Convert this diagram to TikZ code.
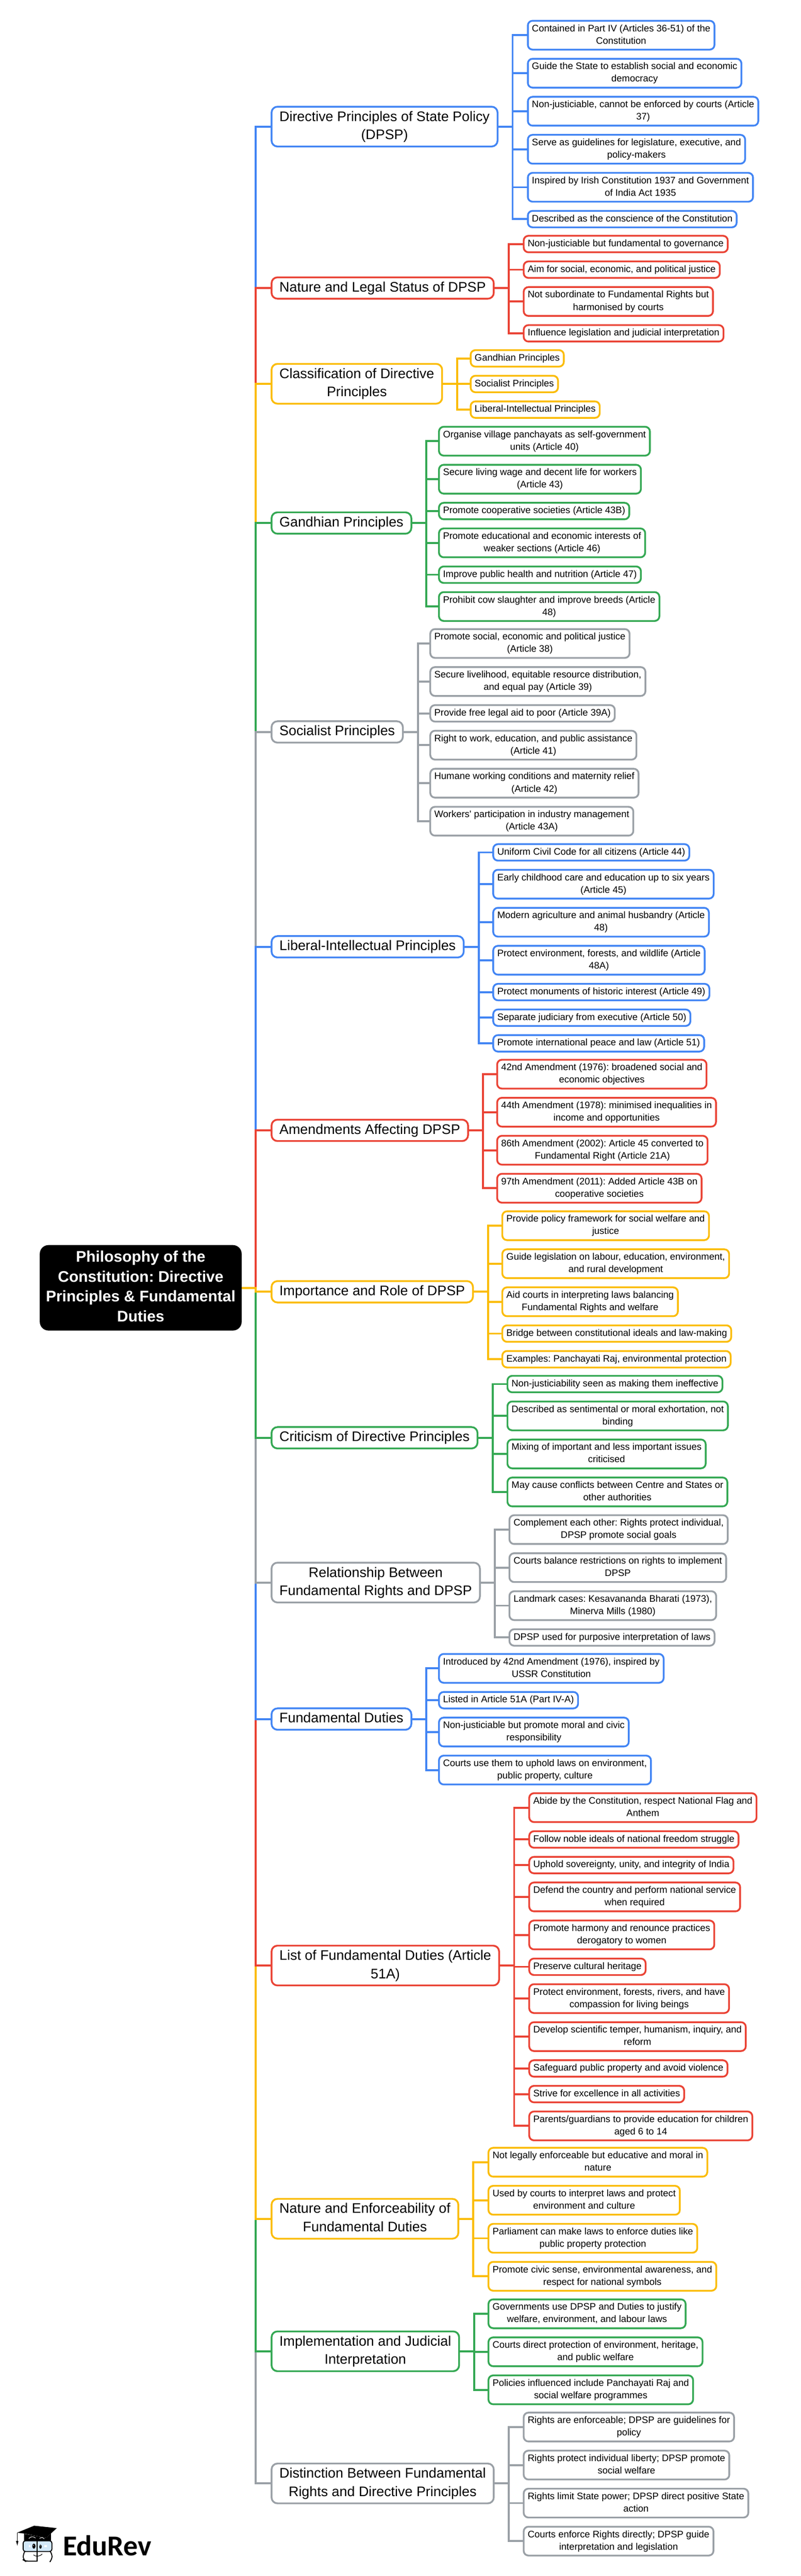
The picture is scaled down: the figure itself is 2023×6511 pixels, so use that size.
\documentclass[tikz,border=0pt]{standalone}
\usepackage{fontspec}
\setmainfont{Liberation Sans}[Ligatures=TeXOff]
\newfontfamily\brandfont{Carlito}
\usetikzlibrary{positioning}
\frenchspacing

\definecolor{gblue}{HTML}{4285F4}
\definecolor{gred}{HTML}{EA4335}
\definecolor{gyellow}{HTML}{FBBC04}
\definecolor{ggreen}{HTML}{34A853}
\definecolor{ggray}{HTML}{9AA0A6}
\definecolor{lensblue}{HTML}{D2E8F8}

\begin{document}
\begin{tikzpicture}[
  x=1pt, y=-1pt,
  every node/.style={align=center, text=black, outer sep=0pt},
  rootbox/.style={fill=black, text=white, rounded corners=22pt, minimum width=510pt, minimum height=216pt,
    inner sep=0pt, font=\fontsize{39}{50.5}\selectfont\bfseries},
  mainbox/.style={draw=#1, fill=white, line width=4.5pt, rounded corners=15pt, anchor=west,
    inner xsep=20pt, inner ysep=3.7pt, font=\fontsize{35}{46.6}\selectfont},
  subbox/.style={draw=#1, fill=white, line width=4.5pt, rounded corners=12pt, anchor=north west,
    inner xsep=10.3pt, inner ysep=5.15pt, font=\fontsize{24}{31.3}\selectfont},
  link/.style={draw=#1, line width=5pt}]

\useasboundingbox (0,0) rectangle (2023,6511);

%Root
\node[rootbox] at (355.5,3255) (root){\strut Philosophy of the\\Constitution: Directive\\Principles \& Fundamental\\Duties\strut};

%Main branches
\node[mainbox=gblue] at (686,320) (dpsp){\strut Directive Principles of State Policy\\(DPSP)\strut};
\node[mainbox=gred] at (686,728) (nature){Nature and Legal Status of DPSP\strut};
\node[mainbox=gyellow] at (686,970) (classes){\strut Classification of Directive\\Principles\strut};
\node[mainbox=ggreen] at (686,1322) (gandhi){Gandhian Principles\strut};
\node[mainbox=ggray] at (686,1850) (social){Socialist Principles\strut};
\node[mainbox=gblue] at (686,2393) (liberal){Liberal-Intellectual Principles\strut};
\node[mainbox=gred] at (686,2857) (amend){Amendments Affecting DPSP\strut};
\node[mainbox=gyellow] at (686,3265) (role){Importance and Role of DPSP\strut};
\node[mainbox=ggreen] at (686,3634) (critic){Criticism of Directive Principles\strut};
\node[mainbox=ggray] at (686,4000) (rights){\strut Relationship Between\\Fundamental Rights and DPSP\strut};
\node[mainbox=gblue] at (686,4345) (duties){Fundamental Duties\strut};
\node[mainbox=gred] at (686,4968) (dlist){\strut List of Fundamental Duties (Article\\51A)\strut};
\node[mainbox=gyellow] at (686,5608) (force){\strut Nature and Enforceability of\\Fundamental Duties\strut};
\node[mainbox=ggreen] at (686,5943) (judic){\strut Implementation and Judicial\\Interpretation\strut};
\node[mainbox=ggray] at (686,6277) (differ){\strut Distinction Between Fundamental\\Rights and Directive Principles\strut};

%DPSP
\node[subbox=gblue] at (1333.5,52.5) (dpsp1){\strut Contained in Part IV (Articles 36-51) of the\\Constitution\strut};
\node[subbox=gblue] at ([yshift=-23.2pt]dpsp1.south west) (dpsp2){\strut Guide the State to establish social and economic\\democracy\strut};
\node[subbox=gblue] at ([yshift=-23.2pt]dpsp2.south west) (dpsp3){\strut Non-justiciable, cannot be enforced by courts (Article\\37)\strut};
\node[subbox=gblue] at ([yshift=-23.2pt]dpsp3.south west) (dpsp4){\strut Serve as guidelines for legislature, executive, and\\policy-makers\strut};
\node[subbox=gblue] at ([yshift=-23.2pt]dpsp4.south west) (dpsp5){\strut Inspired by Irish Constitution 1937 and Government\\of India Act 1935\strut};
\node[subbox=gblue] at ([yshift=-23.2pt]dpsp5.south west) (dpsp6){Described as the conscience of the Constitution\strut};
\foreach \kid in {dpsp1,dpsp2,dpsp3,dpsp4,dpsp5,dpsp6}
  \draw[link=gblue] (dpsp.east) -- ++(38,0) |- (\kid.west);

%Nature and status
\node[subbox=gred] at (1323,596) (nature1){Non-justiciable but fundamental to governance\strut};
\node[subbox=gred] at ([yshift=-23.2pt]nature1.south west) (nature2){Aim for social, economic, and political justice\strut};
\node[subbox=gred] at ([yshift=-23.2pt]nature2.south west) (nature3){\strut Not subordinate to Fundamental Rights but\\harmonised by courts\strut};
\node[subbox=gred] at ([yshift=-23.2pt]nature3.south west) (nature4){Influence legislation and judicial interpretation\strut};
\foreach \kid in {nature1,nature2,nature3,nature4}
  \draw[link=gred] (nature.east) -- ++(38,0) |- (\kid.west);

%Classification
\node[subbox=gyellow] at (1189,885) (classes1){Gandhian Principles\strut};
\node[subbox=gyellow] at ([yshift=-23.2pt]classes1.south west) (classes2){Socialist Principles\strut};
\node[subbox=gyellow] at ([yshift=-23.2pt]classes2.south west) (classes3){Liberal-Intellectual Principles\strut};
\foreach \kid in {classes1,classes2,classes3}
  \draw[link=gyellow] (classes.east) -- ++(38,0) |- (\kid.west);

%Gandhian
\node[subbox=ggreen] at (1109,1078.7) (gandhi1){\strut Organise village panchayats as self-government\\units (Article 40)\strut};
\node[subbox=ggreen] at ([yshift=-23.2pt]gandhi1.south west) (gandhi2){\strut Secure living wage and decent life for workers\\(Article 43)\strut};
\node[subbox=ggreen] at ([yshift=-23.2pt]gandhi2.south west) (gandhi3){Promote cooperative societies (Article 43B)\strut};
\node[subbox=ggreen] at ([yshift=-23.2pt]gandhi3.south west) (gandhi4){\strut Promote educational and economic interests of\\weaker sections (Article 46)\strut};
\node[subbox=ggreen] at ([yshift=-23.2pt]gandhi4.south west) (gandhi5){Improve public health and nutrition (Article 47)\strut};
\node[subbox=ggreen] at ([yshift=-23.2pt]gandhi5.south west) (gandhi6){\strut Prohibit cow slaughter and improve breeds (Article\\48)\strut};
\foreach \kid in {gandhi1,gandhi2,gandhi3,gandhi4,gandhi5,gandhi6}
  \draw[link=ggreen] (gandhi.east) -- ++(38,0) |- (\kid.west);

%Socialist
\node[subbox=ggray] at (1087,1590) (social1){\strut Promote social, economic and political justice\\(Article 38)\strut};
\node[subbox=ggray] at ([yshift=-23.2pt]social1.south west) (social2){\strut Secure livelihood, equitable resource distribution,\\and equal pay (Article 39)\strut};
\node[subbox=ggray] at ([yshift=-23.2pt]social2.south west) (social3){Provide free legal aid to poor (Article 39A)\strut};
\node[subbox=ggray] at ([yshift=-23.2pt]social3.south west) (social4){\strut Right to work, education, and public assistance\\(Article 41)\strut};
\node[subbox=ggray] at ([yshift=-23.2pt]social4.south west) (social5){\strut Humane working conditions and maternity relief\\(Article 42)\strut};
\node[subbox=ggray] at ([yshift=-23.2pt]social5.south west) (social6){\strut Workers' participation in industry management\\(Article 43A)\strut};
\foreach \kid in {social1,social2,social3,social4,social5,social6}
  \draw[link=ggray] (social.east) -- ++(38,0) |- (\kid.west);

%Liberal-intellectual
\node[subbox=gblue] at (1246,2133.6) (liberal1){Uniform Civil Code for all citizens (Article 44)\strut};
\node[subbox=gblue] at ([yshift=-23.2pt]liberal1.south west) (liberal2){\strut Early childhood care and education up to six years\\(Article 45)\strut};
\node[subbox=gblue] at ([yshift=-23.2pt]liberal2.south west) (liberal3){\strut Modern agriculture and animal husbandry (Article\\48)\strut};
\node[subbox=gblue] at ([yshift=-23.2pt]liberal3.south west) (liberal4){\strut Protect environment, forests, and wildlife (Article\\48A)\strut};
\node[subbox=gblue] at ([yshift=-23.2pt]liberal4.south west) (liberal5){Protect monuments of historic interest (Article 49)\strut};
\node[subbox=gblue] at ([yshift=-23.2pt]liberal5.south west) (liberal6){Separate judiciary from executive (Article 50)\strut};
\node[subbox=gblue] at ([yshift=-23.2pt]liberal6.south west) (liberal7){Promote international peace and law (Article 51)\strut};
\foreach \kid in {liberal1,liberal2,liberal3,liberal4,liberal5,liberal6,liberal7}
  \draw[link=gblue] (liberal.east) -- ++(38,0) |- (\kid.west);

%Amendments
\node[subbox=gred] at (1256,2678.6) (amend1){\strut 42nd Amendment (1976): broadened social and\\economic objectives\strut};
\node[subbox=gred] at ([yshift=-23.2pt]amend1.south west) (amend2){\strut 44th Amendment (1978): minimised inequalities in\\income and opportunities\strut};
\node[subbox=gred] at ([yshift=-23.2pt]amend2.south west) (amend3){\strut 86th Amendment (2002): Article 45 converted to\\Fundamental Right (Article 21A)\strut};
\node[subbox=gred] at ([yshift=-23.2pt]amend3.south west) (amend4){\strut 97th Amendment (2011): Added Article 43B on\\cooperative societies\strut};
\foreach \kid in {amend1,amend2,amend3,amend4}
  \draw[link=gred] (amend.east) -- ++(38,0) |- (\kid.west);

%Importance
\node[subbox=gyellow] at (1269,3061.6) (role1){\strut Provide policy framework for social welfare and\\justice\strut};
\node[subbox=gyellow] at ([yshift=-23.2pt]role1.south west) (role2){\strut Guide legislation on labour, education, environment,\\and rural development\strut};
\node[subbox=gyellow] at ([yshift=-23.2pt]role2.south west) (role3){\strut Aid courts in interpreting laws balancing\\Fundamental Rights and welfare\strut};
\node[subbox=gyellow] at ([yshift=-23.2pt]role3.south west) (role4){Bridge between constitutional ideals and law-making\strut};
\node[subbox=gyellow] at ([yshift=-23.2pt]role4.south west) (role5){Examples: Panchayati Raj, environmental protection\strut};
\foreach \kid in {role1,role2,role3,role4,role5}
  \draw[link=gyellow] (role.east) -- ++(38,0) |- (\kid.west);

%Criticism
\node[subbox=ggreen] at (1282,3477.5) (critic1){Non-justiciability seen as making them ineffective\strut};
\node[subbox=ggreen] at ([yshift=-23.2pt]critic1.south west) (critic2){\strut Described as sentimental or moral exhortation, not\\binding\strut};
\node[subbox=ggreen] at ([yshift=-23.2pt]critic2.south west) (critic3){\strut Mixing of important and less important issues\\criticised\strut};
\node[subbox=ggreen] at ([yshift=-23.2pt]critic3.south west) (critic4){\strut May cause conflicts between Centre and States or\\other authorities\strut};
\foreach \kid in {critic1,critic2,critic3,critic4}
  \draw[link=ggreen] (critic.east) -- ++(38,0) |- (\kid.west);

%Relationship
\node[subbox=ggray] at (1287,3829.7) (rights1){\strut Complement each other: Rights protect individual,\\DPSP promote social goals\strut};
\node[subbox=ggray] at ([yshift=-23.2pt]rights1.south west) (rights2){\strut Courts balance restrictions on rights to implement\\DPSP\strut};
\node[subbox=ggray] at ([yshift=-23.2pt]rights2.south west) (rights3){\strut Landmark cases: Kesavananda Bharati (1973),\\Minerva Mills (1980)\strut};
\node[subbox=ggray] at ([yshift=-23.2pt]rights3.south west) (rights4){DPSP used for purposive interpretation of laws\strut};
\foreach \kid in {rights1,rights2,rights3,rights4}
  \draw[link=ggray] (rights.east) -- ++(38,0) |- (\kid.west);

%Fundamental duties
\node[subbox=gblue] at (1109,4180.4) (duties1){\strut Introduced by 42nd Amendment (1976), inspired by\\USSR Constitution\strut};
\node[subbox=gblue] at ([yshift=-23.2pt]duties1.south west) (duties2){Listed in Article 51A (Part IV-A)\strut};
\node[subbox=gblue] at ([yshift=-23.2pt]duties2.south west) (duties3){\strut Non-justiciable but promote moral and civic\\responsibility\strut};
\node[subbox=gblue] at ([yshift=-23.2pt]duties3.south west) (duties4){\strut Courts use them to uphold laws on environment,\\public property, culture\strut};
\foreach \kid in {duties1,duties2,duties3,duties4}
  \draw[link=gblue] (duties.east) -- ++(38,0) |- (\kid.west);

%List of duties
\node[subbox=gred] at (1337,4532.4) (dlist1){\strut Abide by the Constitution, respect National Flag and\\Anthem\strut};
\node[subbox=gred] at ([yshift=-23.2pt]dlist1.south west) (dlist2){Follow noble ideals of national freedom struggle\strut};
\node[subbox=gred] at ([yshift=-23.2pt]dlist2.south west) (dlist3){Uphold sovereignty, unity, and integrity of India\strut};
\node[subbox=gred] at ([yshift=-23.2pt]dlist3.south west) (dlist4){\strut Defend the country and perform national service\\when required\strut};
\node[subbox=gred] at ([yshift=-23.2pt]dlist4.south west) (dlist5){\strut Promote harmony and renounce practices\\derogatory to women\strut};
\node[subbox=gred] at ([yshift=-23.2pt]dlist5.south west) (dlist6){Preserve cultural heritage\strut};
\node[subbox=gred] at ([yshift=-23.2pt]dlist6.south west) (dlist7){\strut Protect environment, forests, rivers, and have\\compassion for living beings\strut};
\node[subbox=gred] at ([yshift=-23.2pt]dlist7.south west) (dlist8){\strut Develop scientific temper, humanism, inquiry, and\\reform\strut};
\node[subbox=gred] at ([yshift=-23.2pt]dlist8.south west) (dlist9){Safeguard public property and avoid violence\strut};
\node[subbox=gred] at ([yshift=-23.2pt]dlist9.south west) (dlist10){Strive for excellence in all activities\strut};
\node[subbox=gred] at ([yshift=-23.2pt]dlist10.south west) (dlist11){\strut Parents/guardians to provide education for children\\aged 6 to 14\strut};
\foreach \kid in {dlist1,dlist2,dlist3,dlist4,dlist5,dlist6,dlist7,dlist8,dlist9,dlist10,dlist11}
  \draw[link=gred] (dlist.east) -- ++(38,0) |- (\kid.west);

%Enforceability
\node[subbox=gyellow] at (1234,5428.7) (force1){\strut Not legally enforceable but educative and moral in\\nature\strut};
\node[subbox=gyellow] at ([yshift=-23.2pt]force1.south west) (force2){\strut Used by courts to interpret laws and protect\\environment and culture\strut};
\node[subbox=gyellow] at ([yshift=-23.2pt]force2.south west) (force3){\strut Parliament can make laws to enforce duties like\\public property protection\strut};
\node[subbox=gyellow] at ([yshift=-23.2pt]force3.south west) (force4){\strut Promote civic sense, environmental awareness, and\\respect for national symbols\strut};
\foreach \kid in {force1,force2,force3,force4}
  \draw[link=gyellow] (force.east) -- ++(38,0) |- (\kid.west);

%Implementation
\node[subbox=ggreen] at (1234,5811.7) (judic1){\strut Governments use DPSP and Duties to justify\\welfare, environment, and labour laws\strut};
\node[subbox=ggreen] at ([yshift=-23.2pt]judic1.south west) (judic2){\strut Courts direct protection of environment, heritage,\\and public welfare\strut};
\node[subbox=ggreen] at ([yshift=-23.2pt]judic2.south west) (judic3){\strut Policies influenced include Panchayati Raj and\\social welfare programmes\strut};
\foreach \kid in {judic1,judic2,judic3}
  \draw[link=ggreen] (judic.east) -- ++(38,0) |- (\kid.west);

%Distinction
\node[subbox=ggray] at (1323,6098) (differ1){\strut Rights are enforceable; DPSP are guidelines for\\policy\strut};
\node[subbox=ggray] at ([yshift=-23.2pt]differ1.south west) (differ2){\strut Rights protect individual liberty; DPSP promote\\social welfare\strut};
\node[subbox=ggray] at ([yshift=-23.2pt]differ2.south west) (differ3){\strut Rights limit State power; DPSP direct positive State\\action\strut};
\node[subbox=ggray] at ([yshift=-23.2pt]differ3.south west) (differ4){\strut Courts enforce Rights directly; DPSP guide\\interpretation and legislation\strut};
\foreach \kid in {differ1,differ2,differ3,differ4}
  \draw[link=ggray] (differ.east) -- ++(38,0) |- (\kid.west);

%Trunk: upper half first, then lower half from the far end
\foreach \branch/\col in {dpsp/gblue,nature/gred,classes/gyellow,gandhi/ggreen,social/ggray,liberal/gblue,amend/gred,
  differ/ggray,judic/ggreen,force/gyellow,dlist/gred,duties/gblue,rights/ggray,critic/ggreen,role/gyellow}
  \draw[link=\col] (root.east) -- ++(35,0) |- (\branch.west);

%Logo
\begin{scope}[shift={(20,6360)}, x=0.34pt, y=-0.34pt]
\fill[black] (68,122) -- (195,70) -- (363,88) -- (285,160) -- (118,128) -- cycle;
\fill[black] (120,130) -- (285,160) -- (320,128) -- (320,185) -- (120,185) -- cycle;
\draw[white, line width=1.2pt] (155,166) .. controls (170,148) and (190,148) .. (205,162);
\draw[white, line width=1.2pt] (235,166) .. controls (245,155) and (258,155) .. (270,168);
\draw[black, line width=1pt] (68,122) -- (68,185);
\fill[black] (60,183) -- (78,183) -- (70,218) -- cycle;
\draw[black, fill=lensblue, line width=2.4pt, rounded corners=6pt] (113,182) rectangle (327,262);
\draw[black, line width=2.4pt, rounded corners=8pt] (125,262) -- (113,280) -- (115,325) -- (130,334) -- (215,334);
\draw[black, line width=2.4pt, rounded corners=8pt] (315,262) -- (329,280) -- (327,322) -- (316,334);
\draw[black, line width=2.2pt] (218,182) -- (218,336);
\fill[black] (193,222) ellipse (12 and 19);
\fill[black] (242,226) ellipse (9 and 15);
\fill[white] (190,216) circle (3.5);
\fill[white] (240,220) circle (3);
\fill[white] (154,214) rectangle (168,228);
\fill[white] (272,214) rectangle (288,228);
\draw[black, line width=1.4pt] (190,287) .. controls (205,300) and (235,302) .. (255,280);
\end{scope}
\node[anchor=base west, inner sep=0pt, font=\fontsize{73}{76}\brandfont\bfseries] at (159,6460) (brand){EduRev};

\end{tikzpicture}
\end{document}
